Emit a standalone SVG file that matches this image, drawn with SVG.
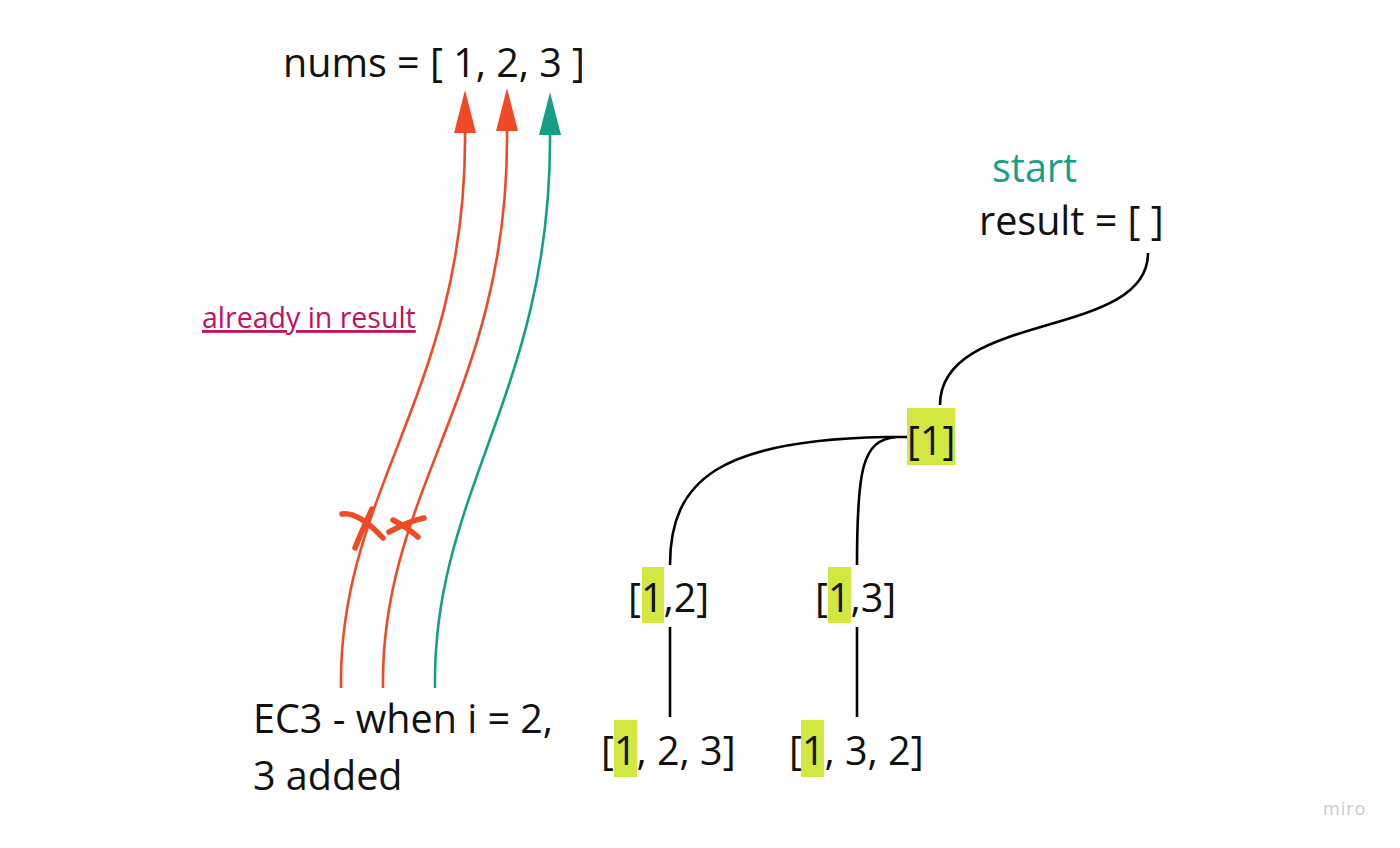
<svg xmlns="http://www.w3.org/2000/svg" width="1400" height="848" viewBox="0 0 1400 848">
<defs>
<style>
text{font-family:"Open Sans","Noto Sans","Liberation Sans",sans-serif;fill:#111;}
.big{font-size:39.5px;}
.red{stroke:#ef4a25;stroke-width:2.6;fill:none;}
.grn{stroke:#13a085;stroke-width:2.6;fill:none;}
.blk{stroke:#000;stroke-width:2.6;fill:none;}
.hl{fill:#d2e840;}
.x{stroke:#ef4a25;stroke-width:5.5;fill:none;stroke-linecap:round;}
.headR{fill:#ef4a25;}
.headG{fill:#13a085;}
</style>
</defs>
<rect width="1400" height="848" fill="#fff"/>

<g id="connectors">
<path class="red" d="M341,688 C338,490 468,390 465,130"/>
<path class="red" d="M383,688 C380,490 510,390 507,130"/>
<path class="grn" d="M435,688 C432,490 553,390 550,130"/>
<polygon class="headR" points="465,90 476,133 454,133"/>
<polygon class="headR" points="507,88 518,131 496,131"/>
<polygon class="headG" points="550,92 561,135 539,135"/>
<path class="blk" d="M1148,253 C1148,340 940,310 940,405"/>
<path class="blk" d="M907,437 L885,437 C720,440 670,480 670,565"/>
<path class="blk" d="M896,437 C862,440 857,470 857,565"/>
<path class="blk" d="M670,627 L670,717"/>
<path class="blk" d="M857,627 L857,717"/>
</g>

<g id="crosses">
<path class="x" d="M342,514 C355,512 370,524 383,538"/>
<path class="x" d="M372,509 C366,522 360,535 355,548"/>
<path class="x" d="M389,532 C400,526 413,520 424,518"/>
<path class="x" d="M393,520 C401,524 410,530 418,537"/>
</g>

<g id="nums"><text class="big" x="283" y="77">nums = [ 1, 2, 3 ]</text></g>
<g id="already"><text x="202" y="328" style="font-size:28.5px;fill:#c2125e;text-decoration:underline">already in result</text></g>
<g id="start"><text class="big" x="992" y="182" style="fill:#16a085">start</text></g>
<g id="result"><text class="big" x="979" y="235">result = [ ]</text></g>

<g id="n1"><rect class="hl" x="907" y="408" width="48" height="57"/><text class="big" x="907" y="455">[1]</text></g>
<g id="n12"><rect class="hl" x="642" y="567" width="22" height="56"/><text class="big" x="628" y="612">[1,2]</text></g>
<g id="n13"><rect class="hl" x="828" y="567" width="23" height="56"/><text class="big" x="815" y="612">[1,3]</text></g>
<g id="n123"><rect class="hl" x="614" y="720" width="23" height="57"/><text class="big" x="601" y="765">[1, 2, 3]</text></g>
<g id="n132"><rect class="hl" x="801" y="720" width="23" height="57"/><text class="big" x="789" y="765">[1, 3, 2]</text></g>

<g id="ec3"><text class="big" x="253" y="733">EC3 - when i = 2,</text><text class="big" x="253" y="790">3 added</text></g>
<g id="miro"><text x="1323" y="815" style="font-size:18px;fill:#c9c9d2;letter-spacing:1px">miro</text></g>
</svg>
